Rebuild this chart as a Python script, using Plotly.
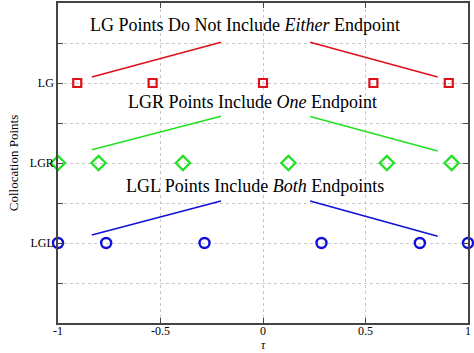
import plotly.graph_objects as go

# Collocation point locations (tau)
lg_tau = [-0.9062, -0.5385, 0.0, 0.5385, 0.9062]
lgr_tau = [-1.0, -0.8023, -0.3906, 0.1240, 0.6040, 0.9203]
lgl_tau = [-1.0, -0.7651, -0.2852, 0.2852, 0.7651, 1.0]

# category levels on the vertical axis
cat_names = ["LGL", "LGR", "LG"]
cat_levels = [2, 4, 6]

# annotation callout lines (x pairs, y pairs) for each group
lg_left_x, lg_left_y = [-0.835, -0.205], [6.15, 7.02]
lg_right_x, lg_right_y = [0.23, 0.852], [7.02, 6.15]
lgr_left_x, lgr_left_y = [-0.835, -0.205], [4.33, 5.17]
lgr_right_x, lgr_right_y = [0.23, 0.852], [5.16, 4.30]
lgl_left_x, lgl_left_y = [-0.835, -0.205], [2.20, 3.05]
lgl_right_x, lgl_right_y = [0.23, 0.852], [3.05, 2.17]

titles = [
    "LG Points Do Not Include <i>Either</i> Endpoint",
    "LGR Points Include <i>One</i> Endpoint",
    "LGL Points Include <i>Both</i> Endpoints",
]
title_x = [-0.09, -0.05, -0.04]
title_y = [7.45, 5.52, 3.42]

RED, GREEN, BLUE = "#e0101a", "#22e022", "#1010d8"
FONT = "Liberation Serif, Times New Roman, serif"

fig = go.Figure()

for xs, ys, c in [
    (lg_left_x, lg_left_y, RED), (lg_right_x, lg_right_y, RED),
    (lgr_left_x, lgr_left_y, GREEN), (lgr_right_x, lgr_right_y, GREEN),
    (lgl_left_x, lgl_left_y, BLUE), (lgl_right_x, lgl_right_y, BLUE),
]:
    fig.add_trace(go.Scatter(x=xs, y=ys, mode="lines",
                             line=dict(color=c, width=1.6), showlegend=False,
                             hoverinfo="skip"))

fig.add_trace(go.Scatter(x=lg_tau, y=[cat_levels[2]] * len(lg_tau), mode="markers",
                         marker=dict(symbol="square-open", size=8, color=RED,
                                     line=dict(width=2.2, color=RED)),
                         cliponaxis=False, showlegend=False))
fig.add_trace(go.Scatter(x=lgr_tau, y=[cat_levels[1]] * len(lgr_tau), mode="markers",
                         marker=dict(symbol="diamond-open", size=11, color=GREEN,
                                     line=dict(width=2.2, color=GREEN)),
                         cliponaxis=False, showlegend=False))
fig.add_trace(go.Scatter(x=lgl_tau, y=[cat_levels[0]] * len(lgl_tau), mode="markers",
                         marker=dict(symbol="circle-open", size=10, color=BLUE,
                                     line=dict(width=2.4, color=BLUE)),
                         cliponaxis=False, showlegend=False))

for t, tx, ty in zip(titles, title_x, title_y):
    fig.add_annotation(x=tx, y=ty, text=t, showarrow=False,
                       font=dict(family=FONT, size=18, color="black"),
                       xanchor="center", yanchor="middle")

# x-axis title (tau) placed just below the tick labels, kept inside the page
fig.add_annotation(x=0.5, xref="paper", y=-0.0925, yref="paper", text="<i>τ</i>",
                   showarrow=False, xanchor="center", yanchor="bottom",
                   borderpad=0, font=dict(family=FONT, size=12, color="black"))

ytickvals = [1, 2, 3, 4, 5, 6, 7]
yticktext = ["", "LGL", "", "LGR", "", "LG", ""]

fig.update_layout(
    width=474, height=353,
    margin=dict(l=58, r=6, t=1, b=30),
    paper_bgcolor="white", plot_bgcolor="white",
    font=dict(family=FONT, size=12, color="black"),
    xaxis=dict(range=[-1, 1], tickvals=[-1, -0.5, 0, 0.5, 1],
               ticktext=["-1", "-0.5", "0", "0.5", "1"],
               showgrid=True, gridcolor="#c8c8c8", griddash="dot", gridwidth=1,
               zeroline=False, showline=True, linecolor="#444", linewidth=1.5,
               mirror="ticks", ticks="inside", ticklen=5, tickcolor="#444",
               ticklabelstandoff=-4),
    yaxis=dict(range=[0, 8], tickvals=ytickvals, ticktext=yticktext,
               showgrid=True, gridcolor="#c8c8c8", griddash="dot", gridwidth=1,
               zeroline=False, showline=True, linecolor="#444", linewidth=1.5,
               mirror="ticks", ticks="inside", ticklen=5, tickcolor="#444",
               title=dict(text="Collocation Points", standoff=8, font=dict(size=13))),
)

fig.write_html("out.html")
